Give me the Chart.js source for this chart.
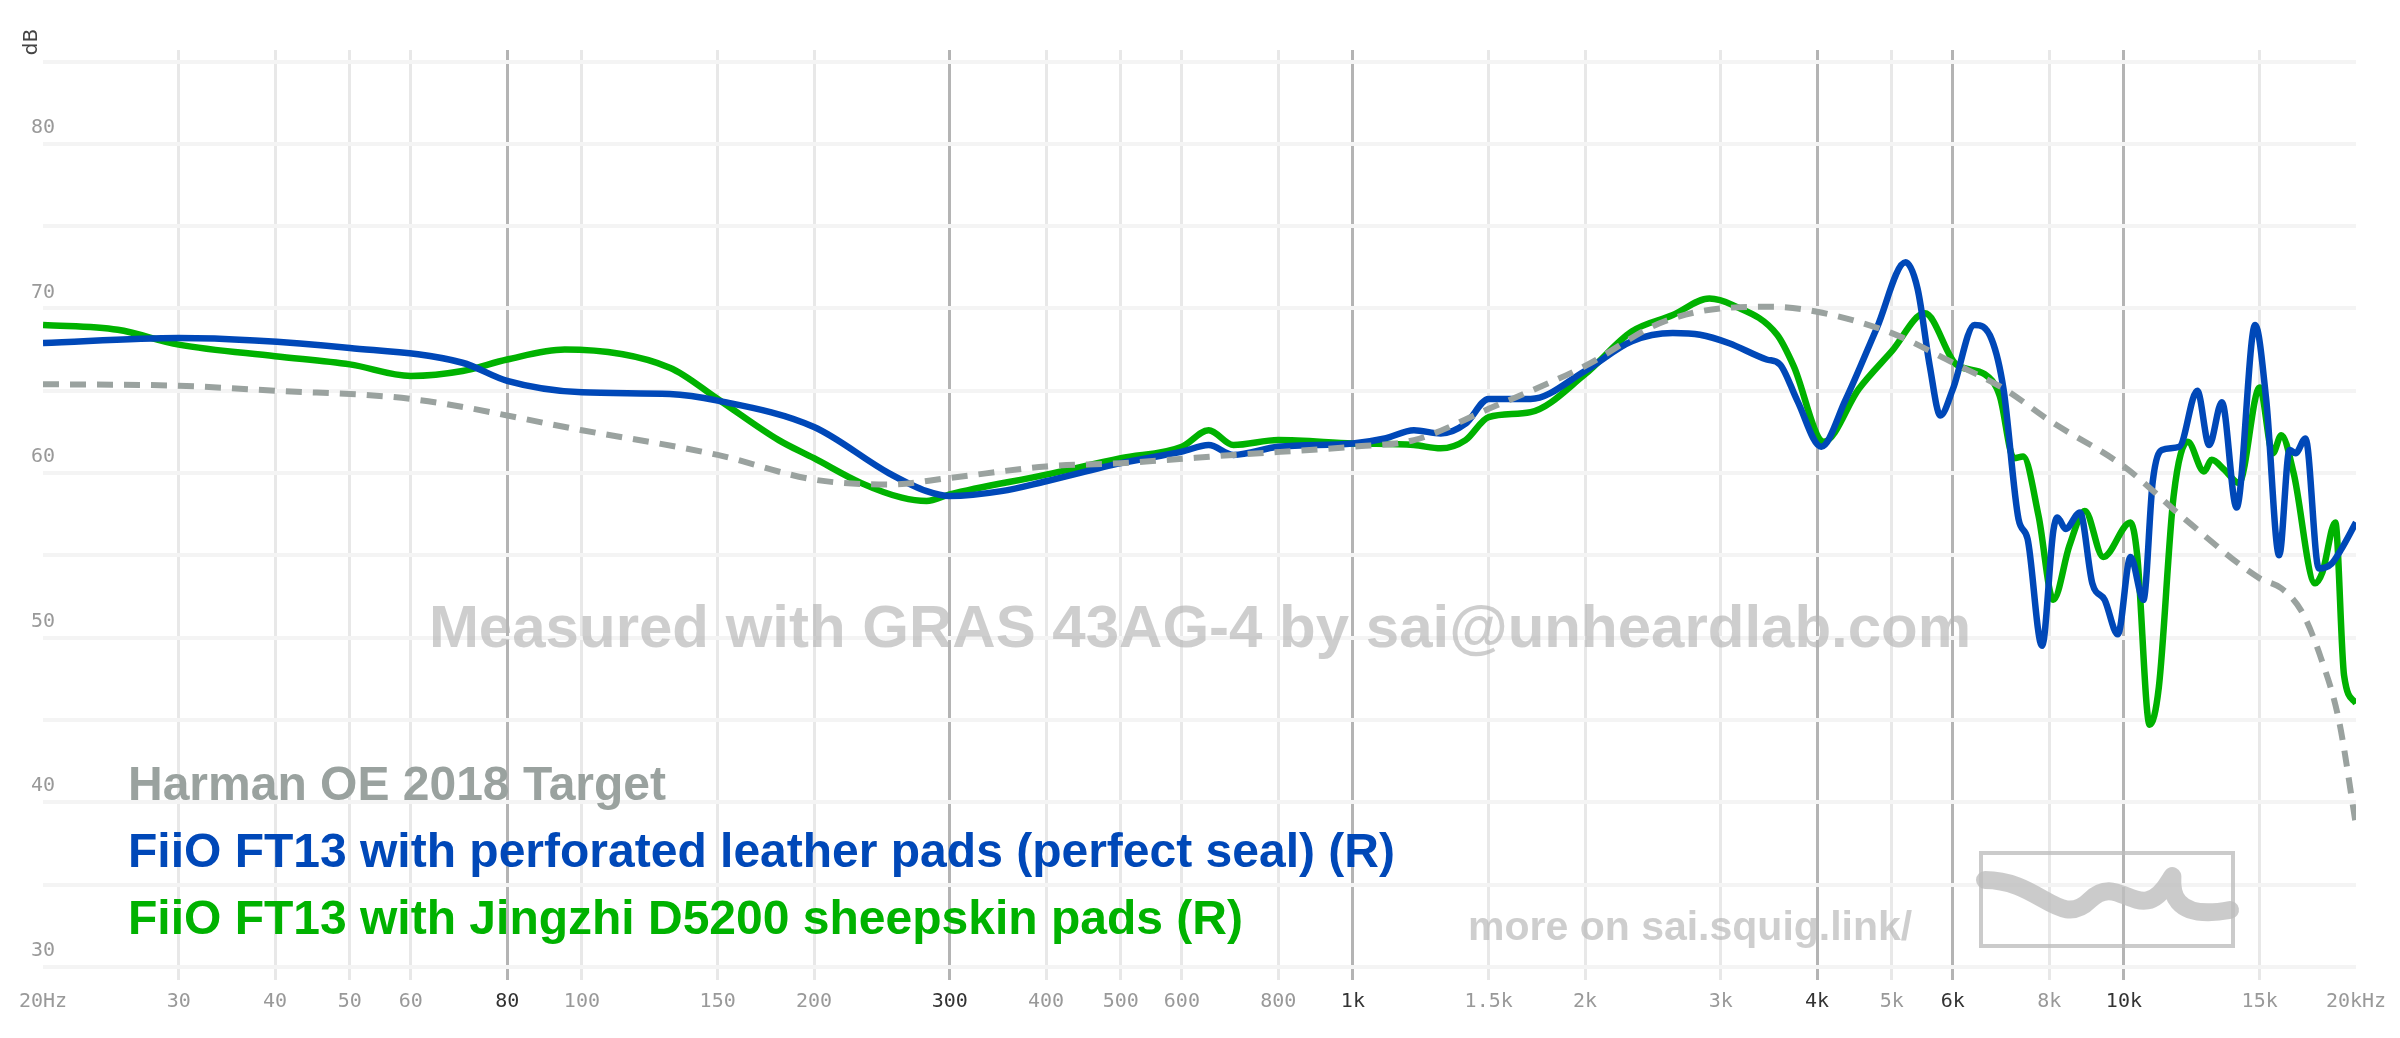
<!DOCTYPE html>
<html>
<head>
<meta charset="utf-8">
<script src="https://cdn.jsdelivr.net/npm/chart.js@4.4.1/dist/chart.umd.min.js"></script>
<style>
  html, body { margin: 0; padding: 0; background: #fff; }
  #wrap { width: 2400px; height: 1038px; }
</style>
</head>
<body>
<div id="wrap"><canvas id="fr"></canvas></div>
<script>
// Harman target
var targetFreq = [20, 30, 40, 60, 100, 150, 200, 250, 300, 400, 500, 700, 1000, 1200, 1500, 2000, 2500, 3000, 3500, 4000, 5000, 6000, 7000, 8000, 10000, 12000, 15000, 16000, 17000, 18000, 19000, 20000];
var targetDb   = [65.4, 65.3, 65.0, 64.5, 62.6, 61.1, 59.6, 59.3, 59.7, 60.4, 60.6, 61.1, 61.6, 62.0, 63.9, 66.5, 69.1, 70.0, 70.1, 69.8, 68.5, 66.7, 65.1, 63.2, 60.4, 57.2, 53.6, 53.0, 51.6, 48.8, 45.0, 38.6];

// FiiO FT13 perforated leather pads
var blueFreq = [20, 30, 50, 70, 80, 100, 130, 150, 200, 250, 280, 300, 350, 400, 500, 600, 650, 700, 800, 1000, 1100, 1200, 1300, 1400, 1500, 1700, 2000, 2300, 2600, 2820, 3070, 3440, 3580, 3770, 4050, 4350, 4780, 5210, 5400, 5600, 5780, 6000, 6400, 6740, 6980, 7300, 7500, 7830, 8100, 8200, 8400, 8770, 9100, 9440, 9820, 10200, 10600, 10900, 11200, 11800, 12450, 12900, 13400, 14000, 14800, 15300, 15900, 16400, 16700, 17200, 17900, 18600, 19100, 20000];
var blueDb   = [67.9, 68.2, 67.6, 66.7, 65.6, 64.9, 64.8, 64.4, 62.8, 60.0, 58.9, 58.6, 58.9, 59.5, 60.6, 61.3, 61.7, 61.1, 61.6, 61.8, 62.1, 62.6, 62.4, 63.0, 64.5, 64.5, 66.2, 68.0, 68.5, 68.4, 67.9, 66.9, 66.6, 64.4, 61.6, 64.4, 68.8, 72.8, 71.2, 66.5, 63.5, 65.1, 69.0, 68.1, 65.1, 57.2, 56.0, 49.5, 56.5, 57.3, 56.6, 57.6, 53.3, 52.3, 50.2, 54.9, 52.3, 59.5, 61.4, 61.6, 65.0, 61.7, 64.3, 57.9, 69.0, 64.4, 55.0, 61.4, 61.2, 62.1, 54.2, 54.5, 55.3, 57.0];

// FiiO FT13 Jingzhi D5200 sheepskin pads
var greenFreq = [20, 25, 30, 40, 50, 60, 70, 80, 95, 130, 150, 180, 200, 230, 260, 280, 300, 400, 500, 600, 650, 700, 800, 1000, 1200, 1300, 1400, 1500, 1700, 2000, 2300, 2600, 2900, 3110, 3550, 3730, 4080, 4530, 5000, 5520, 6060, 6600, 6900, 7200, 7400, 7750, 8100, 8500, 8900, 9400, 10200, 10400, 10800, 11100, 11600, 12100, 12700, 13000, 13500, 14100, 15000, 15600, 16000, 16600, 17700, 18100, 18800, 19300, 20000];
var greenDb   = [69.0, 68.7, 67.8, 67.1, 66.6, 65.9, 66.2, 66.9, 67.5, 66.4, 64.5, 62.0, 60.9, 59.4, 58.5, 58.3, 58.7, 59.9, 60.9, 61.6, 62.6, 61.7, 62.0, 61.8, 61.7, 61.5, 62.0, 63.4, 63.7, 66.0, 68.6, 69.6, 70.6, 70.2, 68.4, 66.5, 61.9, 65.1, 67.4, 69.7, 66.6, 66.0, 64.7, 60.9, 61.0, 57.4, 52.3, 55.6, 57.7, 54.9, 57.0, 55.1, 44.7, 47.0, 58.6, 61.9, 60.1, 60.8, 60.2, 59.4, 65.2, 61.2, 62.3, 60.0, 53.3, 54.0, 57.0, 47.7, 46.0];

var xTicks = [20, 30, 40, 50, 60, 80, 100, 150, 200, 300, 400, 500, 600, 800, 1000, 1500, 2000, 3000, 4000, 5000, 6000, 8000, 10000, 15000, 20000];
var xTickLabels = ["20Hz", "30", "40", "50", "60", "80", "100", "150", "200", "300", "400", "500", "600", "800", "1k", "1.5k", "2k", "3k", "4k", "5k", "6k", "8k", "10k", "15k", "20kHz"];
var majorTicks = [80, 300, 1000, 4000, 6000, 10000];
var yTicks = [30, 35, 40, 45, 50, 55, 60, 65, 70, 75, 80, 85];

var legendNames = ["Harman OE 2018 Target", "FiiO FT13 with perforated leather pads (perfect seal) (R)", "FiiO FT13 with Jingzhi D5200 sheepskin pads (R)"];
var colors = ["#9aa29f", "#0048b8", "#00b200"];

function pts(f, v) {
  var out = [];
  for (var i = 0; i < f.length; i++) out.push({x: f[i], y: v[i]});
  return out;
}

var overlay = {
  id: 'overlay',
  afterDraw: function(chart) {
    var c = chart.ctx;
    c.save();
    // y axis title
    c.translate(32, 42);
    c.rotate(-Math.PI / 2);
    c.fillStyle = '#444';
    c.font = '20px "DejaVu Sans"';
    c.textAlign = 'center';
    c.textBaseline = 'middle';
    c.fillText('dB', 0, 0);
    c.restore();

    c.save();
    // watermark
    c.fillStyle = 'rgba(180,180,180,0.65)';
    c.font = 'bold 60px "Liberation Sans", Arial, sans-serif';
    c.textAlign = 'center';
    c.textBaseline = 'middle';
    c.fillText('Measured with GRAS 43AG-4 by sai@unheardlab.com', 1200, 630);
    c.font = 'bold 41px "Liberation Sans", Arial, sans-serif';
    c.textAlign = 'left';
    c.fillText('more on sai.squig.link/', 1468, 929);

    // logo box
    c.strokeStyle = 'rgba(190,190,190,0.8)';
    c.lineWidth = 4;
    c.strokeRect(1981, 853, 252, 93);
    c.beginPath();
    c.lineWidth = 18;
    c.lineCap = 'round';
    c.moveTo(1985, 880);
    c.bezierCurveTo(2040, 880, 2060, 930, 2090, 900);
    c.bezierCurveTo(2120, 870, 2140, 930, 2170, 880);
    c.bezierCurveTo(2180, 860, 2150, 925, 2230, 910);
    c.stroke();

    // legend
    c.font = 'bold 48px "Liberation Sans", Arial, sans-serif';
    c.textBaseline = 'middle';
    for (var i = 0; i < legendNames.length; i++) {
      c.fillStyle = colors[i];
      c.fillText(legendNames[i], 128, 787 + i * 67);
    }
    c.restore();
  }
};

new Chart(document.getElementById('fr').getContext('2d'), {
  type: 'line',
  data: {
    datasets: [
      { label: legendNames[0], data: pts(targetFreq, targetDb), borderColor: colors[0], borderWidth: 6, borderDash: [16, 11], pointRadius: 0, cubicInterpolationMode: 'monotone', fill: false },
      { label: legendNames[1], data: pts(blueFreq, blueDb), borderColor: colors[1], borderWidth: 6.5, pointRadius: 0, cubicInterpolationMode: 'monotone', fill: false },
      { label: legendNames[2], data: pts(greenFreq, greenDb), borderColor: colors[2], borderWidth: 6.5, pointRadius: 0, cubicInterpolationMode: 'monotone', fill: false }
    ]
  },
  options: {
    responsive: true,
    maintainAspectRatio: false,
    animation: false,
    layout: { padding: { left: 43, right: 44, top: 50, bottom: 0 } },
    plugins: { legend: { display: false }, tooltip: { enabled: false } },
    scales: {
      x: {
        type: 'logarithmic',
        min: 20, max: 20000,
        afterBuildTicks: function(s) { s.ticks = xTicks.map(function(v) { return {value: v}; }); },
        afterFit: function(s) { s.height = 58; },
        border: { display: false },
        grid: {
          color: function(ctx) {
            var v = ctx.tick && ctx.tick.value;
            if (v === 20 || v === 20000) return 'rgba(0,0,0,0)';
            return majorTicks.indexOf(v) >= 0 ? '#b4b4b4' : '#e8e8e8';
          },
          lineWidth: 3,
          drawTicks: false
        },
        ticks: {
          autoSkip: false,
          maxRotation: 0,
          padding: 10,
          font: { family: '"DejaVu Sans Mono", monospace', size: 20 },
          color: function(ctx) { return majorTicks.indexOf(ctx.tick.value) >= 0 ? '#333' : '#999'; },
          callback: function(v) { var i = xTicks.indexOf(v); return i >= 0 ? xTickLabels[i] : ''; }
        }
      },
      y: {
        min: 29.2, max: 85.7,
        afterBuildTicks: function(s) { s.ticks = yTicks.map(function(v) { return {value: v}; }); },
        afterFit: function(s) { s.width = 0; },
        border: { display: false },
        grid: { color: '#f4f4f4', lineWidth: 4, drawTicks: false },
        ticks: {
          mirror: true,
          padding: -12,
          labelOffset: -16,
          font: { family: '"DejaVu Sans Mono", monospace', size: 20 },
          color: '#999',
          callback: function(v) { return v % 10 === 0 ? String(v) : ''; }
        }
      }
    }
  },
  plugins: [overlay]
});
</script>
</body>
</html>
